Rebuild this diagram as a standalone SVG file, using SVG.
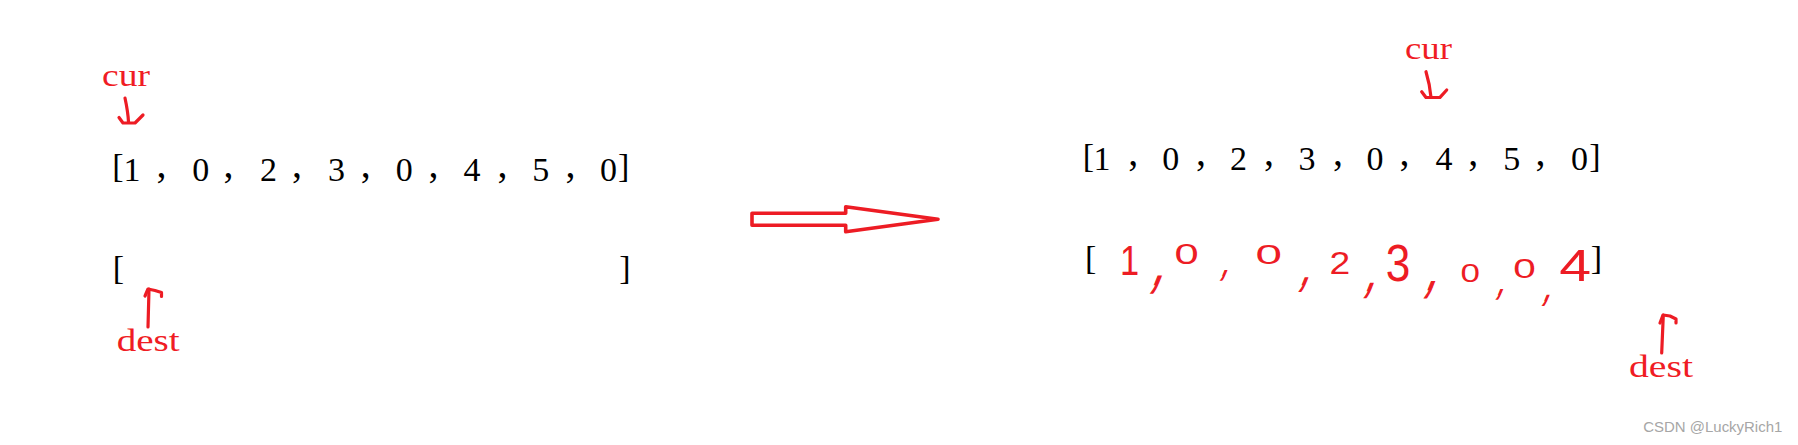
<svg xmlns="http://www.w3.org/2000/svg" width="1798" height="445" viewBox="0 0 1798 445">
<style>
.bk{font-family:"Liberation Serif",serif;font-size:34px;fill:#000;text-anchor:middle}
.cm{font-family:"Liberation Serif",serif;font-size:40px;fill:#000;text-anchor:middle}
.lbl{font-family:"Liberation Serif",serif;font-size:31px;fill:#f01c24}
.hw{font-family:"Liberation Sans",sans-serif;fill:#ed1c24;text-anchor:middle}
.hc{font-family:"Liberation Sans",sans-serif;fill:#ed1c24;stroke:#ed1c24;stroke-width:1.6;text-anchor:middle}
.stroke{fill:none;stroke:#ed1c24;stroke-width:3.2;stroke-linecap:round;stroke-linejoin:round}
.wm{font-family:"Liberation Sans",sans-serif;font-size:14px;fill:#a6a6a6}
</style>
<rect width="1798" height="445" fill="#fff"/>

<g id="left-array">
<text class="bk" x="118" y="177">[</text>
<text class="bk" y="181"><tspan x="132">1</tspan><tspan x="200.7">0</tspan><tspan x="268.6">2</tspan><tspan x="336.4">3</tspan><tspan x="404.3">0</tspan><tspan x="472.1">4</tspan><tspan x="540.7">5</tspan><tspan x="608.6">0</tspan></text>
<text class="cm" y="176.5"><tspan x="161.4">,</tspan><tspan x="228.6">,</tspan><tspan x="297.1">,</tspan><tspan x="365.7">,</tspan><tspan x="433.6">,</tspan><tspan x="502.5">,</tspan><tspan x="570.4">,</tspan></text>
<text class="bk" x="623.6" y="177">]</text>
</g>

<g id="left-dest-array">
<text class="bk" x="118.5" y="278.5">[</text>
<text class="bk" x="625" y="278.5">]</text>
</g>

<g id="left-cur-label">
<text class="lbl" x="102" y="85.7" textLength="48" lengthAdjust="spacingAndGlyphs">cur</text>
</g>
<g id="left-dest-label">
<text class="lbl" x="116.7" y="350.7" textLength="63" lengthAdjust="spacingAndGlyphs">dest</text>
</g>

<g id="right-array">
<text class="bk" x="1088.5" y="167">[</text>
<text class="bk" y="170"><tspan x="1102.1">1</tspan><tspan x="1170.7">0</tspan><tspan x="1238.6">2</tspan><tspan x="1307.1">3</tspan><tspan x="1375">0</tspan><tspan x="1443.9">4</tspan><tspan x="1511.8">5</tspan><tspan x="1579.6">0</tspan></text>
<text class="cm" y="165"><tspan x="1133.2">,</tspan><tspan x="1201.1">,</tspan><tspan x="1268.9">,</tspan><tspan x="1337.9">,</tspan><tspan x="1404.6">,</tspan><tspan x="1473.2">,</tspan><tspan x="1540.4">,</tspan></text>
<text class="bk" x="1595" y="167">]</text>
</g>

<g id="right-result-array">
<text class="bk" x="1090.7" y="269">[</text>
<text class="bk" x="1596.3" y="269">]</text>
<text class="hw" font-size="43" transform="translate(1129.6,275) scale(0.8,1)">1</text>
<text class="hc" font-size="45" transform="translate(1156.5,283.8) skewX(-22) scale(0.75,1.5)">,</text>
<text class="hw" font-size="29" transform="translate(1186.6,264) scale(1.5,1)">0</text>
<text class="hc" font-size="24" transform="translate(1224,274.6) skewX(-22) scale(0.75,1.5)">,</text>
<text class="hw" font-size="28" transform="translate(1268.8,264) scale(1.7,1)">0</text>
<text class="hc" font-size="35" transform="translate(1304,284.2) skewX(-22) scale(0.75,1.5)">,</text>
<text class="hw" font-size="31" transform="translate(1339.8,274) scale(1.2,1)">2</text>
<text class="hc" font-size="37" transform="translate(1369,289.6) skewX(-22) scale(0.75,1.5)">,</text>
<text class="hw" font-size="52" transform="translate(1398,281) scale(0.85,1)">3</text>
<text class="hc" font-size="43" transform="translate(1430,288.7) skewX(-22) scale(0.75,1.5)">,</text>
<text class="hw" font-size="25" transform="translate(1470.2,282) scale(1.4,1)">0</text>
<text class="hc" font-size="24" transform="translate(1499.8,293.6) skewX(-22) scale(0.75,1.5)">,</text>
<text class="hw" font-size="27" transform="translate(1524.5,278) scale(1.5,1)">0</text>
<text class="hc" font-size="25" transform="translate(1546.2,300.4) skewX(-22) scale(0.75,1.5)">,</text>
<text class="hw" font-size="44" transform="translate(1575.2,281) scale(1.3,1)">4</text>
</g>

<g id="right-cur-label">
<text class="lbl" x="1405" y="59.3" textLength="47" lengthAdjust="spacingAndGlyphs">cur</text>
</g>
<g id="right-dest-label">
<text class="lbl" x="1629" y="377.3" textLength="64" lengthAdjust="spacingAndGlyphs">dest</text>
</g>

<g id="connectors">
<path class="stroke" d="M125,98 Q128,112 128.5,122"/>
<path class="stroke" d="M119,117.5 L123,123 L135,123 L143,115"/>
<path class="stroke" d="M148,327 L149,289"/>
<path class="stroke" d="M145,296 L148,289 L155,290.5 L161.5,292.5 L161.5,296.5"/>
<path class="stroke" d="M1426,71.7 Q1430,85 1431,97.3"/>
<path class="stroke" d="M1421.7,91.7 L1426,97.5 L1440,97.3 L1446.7,90"/>
<path class="stroke" d="M1661.7,353 L1663.3,315"/>
<path class="stroke" d="M1660,323 L1663,315 L1670,316 L1676,319 L1676,323"/>
<polygon id="transform-arrow" fill="none" stroke="#ed1c24" stroke-width="3.6" stroke-linejoin="round" points="752,213.3 845.7,213.3 845.7,206.7 938,219.3 845.7,231.7 845.7,225.3 752,225.3"/>
</g>

<text class="wm" x="1643.3" y="432.3" textLength="139" lengthAdjust="spacingAndGlyphs">CSDN @LuckyRich1</text>
</svg>
